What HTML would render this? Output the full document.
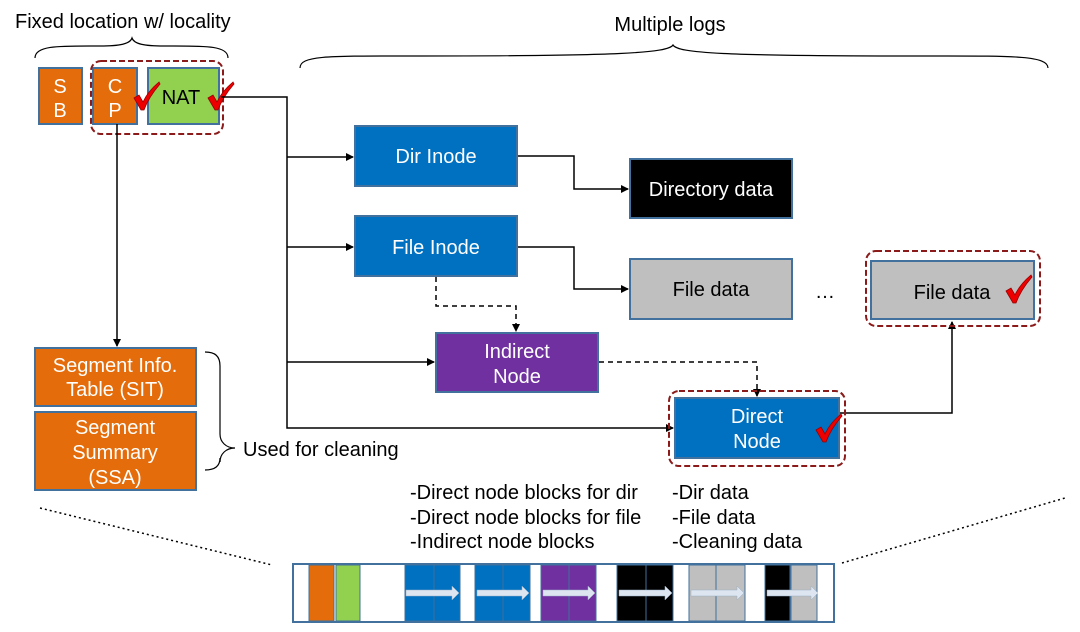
<!DOCTYPE html>
<html><head><meta charset="utf-8"><style>
html,body{margin:0;padding:0;background:#fff;}
svg{display:block;}
text{font-family:"Liberation Sans",Arial,sans-serif;}
</style></head><body>
<svg width="1080" height="632" viewBox="0 0 1080 632" xmlns="http://www.w3.org/2000/svg">
<defs>
<marker id="a" markerWidth="8" markerHeight="8" refX="7" refY="4" orient="auto" markerUnits="userSpaceOnUse"><path d="M0,0 L8,4 L0,8 z" fill="#000"/></marker>
<g id="chk"><path d="M0,12 L5,9 L9,16 C13,7 19,1 25,-4 L26,-2 C20,5 14,13 10,24 L7,24 Z" fill="#e00" stroke="#900" stroke-width="0.8"/></g>
</defs>
<g font-size="20" fill="#000">
<text x="15" y="28">Fixed location w/ locality</text>
<text x="670" y="31" text-anchor="middle">Multiple logs</text>
</g>
<path d="M35,58 C35,45 60,46 100,46 C120,46 130,44 132,38 C134,44 144,46 164,46 C204,46 228,45 228,58" fill="none" stroke="#000" stroke-width="1.2"/>
<path d="M300,68 C300,55 330,56 420,56 C620,56 668,53 673,45 C678,53 720,56 920,56 C1010,56 1048,55 1048,68" fill="none" stroke="#000" stroke-width="1.2"/>
<!-- SB CP NAT -->
<rect x="39" y="68" width="43" height="56" fill="#E46C0A" stroke="#41719C" stroke-width="2"/>
<text x="60" y="93" font-size="20" fill="#fff" text-anchor="middle">S</text>
<text x="60" y="117" font-size="20" fill="#fff" text-anchor="middle">B</text>
<rect x="93" y="68" width="44" height="56" fill="#E46C0A" stroke="#41719C" stroke-width="2"/>
<text x="115" y="93" font-size="20" fill="#fff" text-anchor="middle">C</text>
<text x="115" y="117" font-size="20" fill="#fff" text-anchor="middle">P</text>
<rect x="148" y="68" width="71" height="56" fill="#92D050" stroke="#41719C" stroke-width="2"/>
<text x="181" y="104" font-size="20" fill="#000" text-anchor="middle">NAT</text>
<rect x="91" y="61" width="132" height="73" rx="10" fill="none" stroke="#8B1A1A" stroke-width="2" stroke-dasharray="6,3"/>
<use href="#chk" x="134" y="86"/>
<use href="#chk" x="208" y="86"/>
<g fill="none" stroke="#000" stroke-width="1.5">
<path d="M221,97 H287 V428 H673" marker-end="url(#a)"/>
<path d="M287,157 H353" marker-end="url(#a)"/>
<path d="M287,247 H353" marker-end="url(#a)"/>
<path d="M287,362 H434" marker-end="url(#a)"/>
<path d="M517,156 H574 V189 H628" marker-end="url(#a)"/>
<path d="M517,247 H574 V289 H628" marker-end="url(#a)"/>
<path d="M838,413 H952 V322" marker-end="url(#a)"/>
<path d="M117,124 V346" marker-end="url(#a)"/>
</g>
<g fill="none" stroke="#000" stroke-width="1.5" stroke-dasharray="5,4">
<path d="M436,277 V306 H516 V331" marker-end="url(#a)"/>
<path d="M599,362 H757 V396" marker-end="url(#a)"/>
</g>
<rect x="355" y="126" width="162" height="60" fill="#0070C0" stroke="#41719C" stroke-width="2"/>
<text x="436" y="163" font-size="20" fill="#fff" text-anchor="middle">Dir Inode</text>
<rect x="630" y="159" width="162" height="59" fill="#000" stroke="#41719C" stroke-width="2"/>
<text x="711" y="196" font-size="20" fill="#fff" text-anchor="middle">Directory data</text>
<rect x="355" y="216" width="162" height="60" fill="#0070C0" stroke="#41719C" stroke-width="2"/>
<text x="436" y="254" font-size="20" fill="#fff" text-anchor="middle">File Inode</text>
<rect x="630" y="259" width="162" height="60" fill="#BFBFBF" stroke="#41719C" stroke-width="2"/>
<text x="711" y="296" font-size="20" fill="#000" text-anchor="middle">File data</text>
<text x="825" y="298" font-size="20" fill="#000" text-anchor="middle">…</text>
<rect x="871" y="261" width="163" height="58" fill="#BFBFBF" stroke="#41719C" stroke-width="2"/>
<text x="952" y="299" font-size="20" fill="#000" text-anchor="middle">File data</text>
<rect x="866" y="251" width="174" height="75" rx="10" fill="none" stroke="#8B1A1A" stroke-width="2" stroke-dasharray="6,3"/>
<use href="#chk" x="1006" y="279"/>
<rect x="436" y="333" width="162" height="59" fill="#7030A0" stroke="#41719C" stroke-width="2"/>
<text x="517" y="358" font-size="20" fill="#fff" text-anchor="middle">Indirect</text>
<text x="517" y="383" font-size="20" fill="#fff" text-anchor="middle">Node</text>
<rect x="675" y="398" width="164" height="60" fill="#0070C0" stroke="#41719C" stroke-width="2"/>
<text x="757" y="423" font-size="20" fill="#fff" text-anchor="middle">Direct</text>
<text x="757" y="448" font-size="20" fill="#fff" text-anchor="middle">Node</text>
<rect x="669" y="391" width="176" height="75" rx="10" fill="none" stroke="#8B1A1A" stroke-width="2" stroke-dasharray="6,3"/>
<use href="#chk" x="816" y="418"/>
<rect x="35" y="348" width="161" height="58" fill="#E46C0A" stroke="#41719C" stroke-width="2"/>
<text x="115" y="372" font-size="20" fill="#fff" text-anchor="middle">Segment Info.</text>
<text x="115" y="396" font-size="20" fill="#fff" text-anchor="middle">Table (SIT)</text>
<rect x="35" y="412" width="161" height="78" fill="#E46C0A" stroke="#41719C" stroke-width="2"/>
<text x="115" y="434" font-size="20" fill="#fff" text-anchor="middle">Segment</text>
<text x="115" y="459" font-size="20" fill="#fff" text-anchor="middle">Summary</text>
<text x="115" y="484" font-size="20" fill="#fff" text-anchor="middle">(SSA)</text>
<path d="M205,352 C215,352 220,356 220,366 V434 C220,442 226,448 235,448 C226,448 220,454 220,462 V458 C220,466 215,470 205,470" fill="none" stroke="#000" stroke-width="1.2"/>
<text x="243" y="456" font-size="20" fill="#000">Used for cleaning</text>
<g font-size="20" fill="#000">
<text x="410" y="499">-Direct node blocks for dir</text>
<text x="410" y="524">-Direct node blocks for file</text>
<text x="410" y="548">-Indirect node blocks</text>
<text x="672" y="499">-Dir data</text>
<text x="672" y="524">-File data</text>
<text x="672" y="548">-Cleaning data</text>
</g>
<path d="M40,508 L272,565" stroke="#000" stroke-width="1.5" stroke-dasharray="2,3"/>
<path d="M842,563 L1065,498" stroke="#000" stroke-width="1.5" stroke-dasharray="2,3"/>
<rect x="293" y="564" width="541" height="58" fill="#fff" stroke="#41719C" stroke-width="2"/>
<g stroke="#41719C" stroke-width="1">
<rect x="309" y="565" width="25" height="56" fill="#E46C0A"/>
<rect x="336" y="565" width="24" height="56" fill="#92D050"/>
<rect x="405" y="565" width="29" height="56" fill="#0070C0"/><rect x="434" y="565" width="26" height="56" fill="#0070C0"/>
<rect x="475" y="565" width="28" height="56" fill="#0070C0"/><rect x="503" y="565" width="27" height="56" fill="#0070C0"/>
<rect x="541" y="565" width="28" height="56" fill="#7030A0"/><rect x="569" y="565" width="27" height="56" fill="#7030A0"/>
<rect x="617" y="565" width="29" height="56" fill="#000"/><rect x="646" y="565" width="27" height="56" fill="#000"/>
<rect x="689" y="565" width="27" height="56" fill="#BFBFBF"/><rect x="716" y="565" width="29" height="56" fill="#BFBFBF"/>
<rect x="765" y="565" width="25" height="56" fill="#000"/><rect x="791" y="565" width="26" height="56" fill="#BFBFBF"/>
</g>
<g fill="#DDE6F0" stroke="#9AAFC5" stroke-width="0.5">
<path d="M406,590 H452 V586 L459,593 L452,600 V596 H406 Z"/>
<path d="M477,590 H522 V586 L529,593 L522,600 V596 H477 Z"/>
<path d="M543,590 H588 V586 L595,593 L588,600 V596 H543 Z"/>
<path d="M619,590 H665 V586 L672,593 L665,600 V596 H619 Z"/>
<path d="M691,590 H737 V586 L744,593 L737,600 V596 H691 Z"/>
<path d="M767,590 H811 V586 L818,593 L811,600 V596 H767 Z"/>
</g>
</svg>
</body></html>
